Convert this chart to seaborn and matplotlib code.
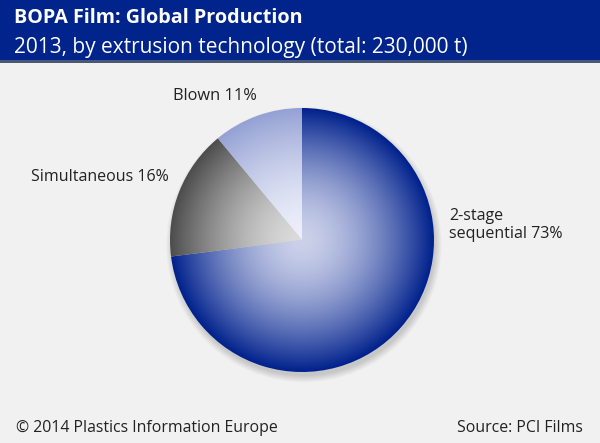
import numpy as np
import matplotlib
matplotlib.use("Agg")
import matplotlib.pyplot as plt
import matplotlib.patches as mpatches
import seaborn as sns

# data
categories = ["2-stage\nsequential", "Simultaneous", "Blown"]
shares = [73, 16, 11]
labels = ["2-stage\nsequential 73%", "Simultaneous 16%", "Blown 11%"]

# radial gradient colours per slice (centre -> edge)
inner_cols = [(0.80, 0.82, 0.92), (0.86, 0.86, 0.86), (0.93, 0.94, 0.98)]
outer_cols = [(0.0, 0.13, 0.55), (0.30, 0.30, 0.30), (0.58, 0.63, 0.83)]

sns.set_theme(style="white")
plt.rcParams["font.family"] = ["Open Sans", "DejaVu Sans"]

bg = "#f0f1f0"
navy = "#00238c"
txt = "#222222"
fig = plt.figure(figsize=(6, 4.43), dpi=100, facecolor=bg)

# header band
fig.patches.append(mpatches.Rectangle((0, 1 - 61 / 443), 1, 61 / 443, transform=fig.transFigure,
                                      facecolor=navy, edgecolor="none", zorder=0))
fig.patches.append(mpatches.Rectangle((0, 1 - 63 / 443), 1, 2.5 / 443, transform=fig.transFigure,
                                      facecolor="#4a5878", edgecolor="none", zorder=0))
fig.text(14 / 600, 1 - 18 / 443, "BOPA Film: Global Production", color="white",
         fontsize=14.2, fontweight="bold", va="center", ha="left")
fig.text(14 / 600, 1 - 47 / 443, "2013, by extrusion technology (total: 230,000 t)", color="white",
         fontsize=15, va="center", ha="left")

# pie axes: centre (302, 240) px, radius 132 px
R = 132.0
cx, cy = 302.0, 240.0
half = 160.0
ax = fig.add_axes([(cx - half) / 600, (443 - cy - half) / 443, 2 * half / 600, 2 * half / 443])
ax.set_facecolor("none")
ax.axis("off")

wedges, _ = ax.pie(shares, startangle=90, counterclock=False, radius=1.0,
                   wedgeprops=dict(edgecolor="none", facecolor="none"))

lim = half / R
ax.set_xlim(-lim, lim)
ax.set_ylim(-lim, lim)
ax.set_aspect("equal")

# soft shadow
for i in range(14):
    r = 1.0 + 0.045 - i * 0.004
    ax.add_patch(mpatches.Circle((0.015, -0.035), r, facecolor="black", alpha=0.012,
                                 edgecolor="none", zorder=0))

# radial gradient fill clipped to each wedge
n = 400
xs = np.linspace(-1, 1, n)
X, Y = np.meshgrid(xs, xs)
t = np.clip(np.sqrt(X ** 2 + Y ** 2), 0, 1) ** 1.6
for w, ci, co in zip(wedges, inner_cols, outer_cols):
    img = np.zeros((n, n, 3))
    for k in range(3):
        img[..., k] = ci[k] + (co[k] - ci[k]) * t
    im = ax.imshow(img, extent=(-1, 1, -1, 1), origin="lower", zorder=2, interpolation="bilinear")
    im.set_clip_path(w)
ax.set_xlim(-lim, lim)
ax.set_ylim(-lim, lim)

# labels
fig.text(449 / 600, 1 - 225 / 443, labels[0], fontsize=11.5, color=txt,
         ha="left", va="center", linespacing=1.25)
fig.text(31 / 600, 1 - 177 / 443, labels[1], fontsize=11.5, color=txt,
         ha="left", va="center")
fig.text(173 / 600, 1 - 96 / 443, labels[2], fontsize=11.8, color=txt,
         ha="left", va="center")

# footer
fig.text(16 / 600, 1 - 428 / 443, "\u00a9 2014 Plastics Information Europe", fontsize=11.4,
         color=txt, ha="left", va="center")
fig.text(583 / 600, 1 - 428 / 443, "Source: PCI Films", fontsize=11.4,
         color=txt, ha="right", va="center")

fig.savefig("out.png", dpi=100, facecolor=bg)
